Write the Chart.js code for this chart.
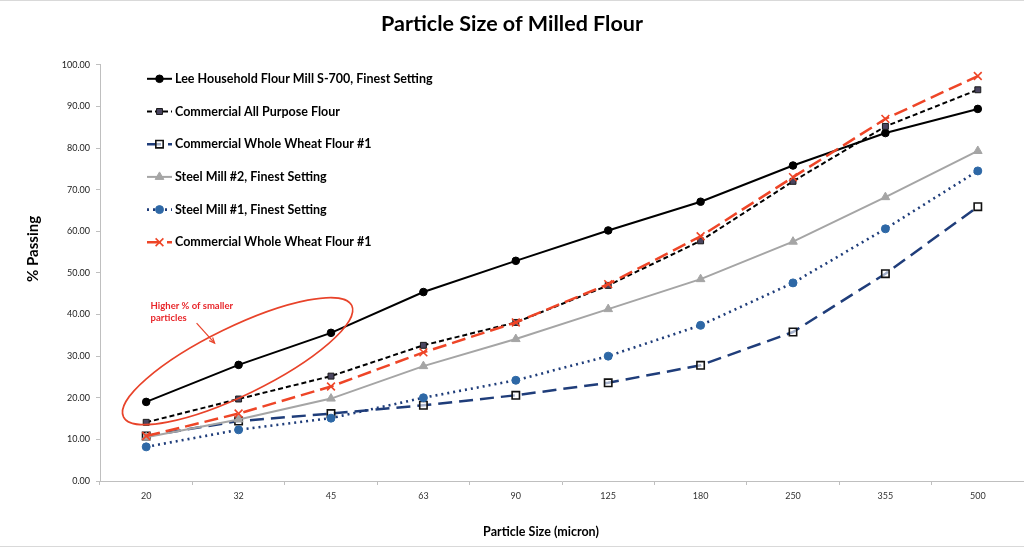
<!DOCTYPE html>
<html>
<head>
<meta charset="utf-8">
<script src="https://cdn.jsdelivr.net/npm/chart.js@4"></script>
<style>
html,body{margin:0;padding:0;background:#fff;}
#wrap{width:1024px;height:548px;position:relative;}
</style>
</head>
<body>
<div id="wrap"><canvas id="c" width="1024" height="548"></canvas></div>
<script>
const categories = ["20","32","45","63","90","125","180","250","355","500"];
const leeHousehold   = [19.0, 27.9, 35.6, 45.4, 52.9, 60.2, 67.1, 75.8, 83.6, 89.4];
const allPurpose     = [14.1, 19.7, 25.2, 32.6, 38.1, 47.0, 57.7, 72.0, 85.2, 94.0];
const wholeWheat1    = [10.8, 14.4, 16.2, 18.2, 20.6, 23.6, 27.8, 35.8, 49.8, 65.9];
const steelMill2     = [10.5, 14.8, 19.8, 27.6, 34.1, 41.3, 48.5, 57.5, 68.2, 79.3];
const steelMill1     = [8.2, 12.3, 15.1, 20.0, 24.2, 30.0, 37.4, 47.6, 60.6, 74.5];
const wholeWheatRed  = [10.8, 16.2, 22.7, 30.9, 38.1, 47.3, 58.8, 73.0, 87.0, 97.3];
const seriesLabels = [
  "Lee Household Flour Mill S-700, Finest Setting",
  "Commercial All Purpose Flour",
  "Commercial Whole Wheat Flour #1",
  "Steel Mill #2, Finest Setting",
  "Steel Mill #1, Finest Setting",
  "Commercial Whole Wheat Flour #1"
];
const yTicks = [0,10,20,30,40,50,60,70,80,90,100];
const xTitle = 'Particle Size (micron)';
const yTitle = '% Passing';

const NAVY = '#1f3d7a';
const RED = '#ee4527';
const GRAY = '#a5a5a5';
const DOTBLUE = '#2e68a6';

const datasets = [
  {label: seriesLabels[2], data: wholeWheat1, borderColor: NAVY, borderWidth: 2.5, borderDash: [14,7],
   pointStyle: 'rect', pointRadius: 5.2, pointBackgroundColor: 'rgba(255,255,255,0.6)', pointBorderColor: '#111', pointBorderWidth: 1.6, order: 6},
  {label: seriesLabels[4], data: steelMill1, borderColor: NAVY, borderWidth: 2.6, borderDash: [2,4],
   pointStyle: 'circle', pointRadius: 4, pointBackgroundColor: DOTBLUE, pointBorderColor: DOTBLUE, pointBorderWidth: 1, order: 5},
  {label: seriesLabels[3], data: steelMill2, borderColor: GRAY, borderWidth: 2,
   pointStyle: 'triangle', pointRadius: 5, pointBackgroundColor: GRAY, pointBorderColor: GRAY, pointBorderWidth: 1, order: 4},
  {label: seriesLabels[0], data: leeHousehold, borderColor: '#000', borderWidth: 2,
   pointStyle: 'circle', pointRadius: 3.8, pointBackgroundColor: '#000', pointBorderColor: '#000', pointBorderWidth: 1, order: 3},
  {label: seriesLabels[1], data: allPurpose, borderColor: '#000', borderWidth: 2, borderDash: [5,3],
   pointStyle: 'rect', pointRadius: 4.2, pointBackgroundColor: '#4a4560', pointBorderColor: '#1a1a1a', pointBorderWidth: 1, order: 2},
  {label: seriesLabels[5], data: wholeWheatRed, borderColor: RED, borderWidth: 2.5, borderDash: [14,6],
   pointStyle: 'crossRot', pointRadius: 5.5, pointBackgroundColor: RED, pointBorderColor: RED, pointBorderWidth: 1.6, order: 1}
];
datasets.forEach(d => { d.fill = false; d.tension = 0; d.backgroundColor = d.borderColor; d.clip = false; });

// legend order as in the reference (indices into datasets)
const legendIdx = [3, 4, 0, 2, 1, 5];

const customLegend = {
  id: 'customLegend',
  afterDraw(chart) {
    const ctx = chart.ctx;
    const ca = chart.chartArea;
    const x0 = ca.left + 47, x1 = ca.left + 72, tx = ca.left + 75;
    const y = ca.top + 14;
    ctx.save();
    legendIdx.forEach((di, i) => {
      const ds = chart.data.datasets[di];
      const yy = y + i * 32.7;
      ctx.beginPath();
      ctx.setLineDash(ds.borderDash ? ds.borderDash.slice() : []);
      ctx.strokeStyle = ds.borderColor;
      ctx.lineWidth = ds.borderWidth;
      ctx.moveTo(x0, yy); ctx.lineTo(x1, yy); ctx.stroke();
      ctx.setLineDash([]);
      ctx.fillStyle = ds.pointBackgroundColor; ctx.strokeStyle = ds.pointBorderColor; ctx.lineWidth = ds.pointBorderWidth;
      ctx.beginPath();
      Chart.helpers.drawPoint(ctx, {pointStyle: ds.pointStyle, radius: ds.pointRadius, borderWidth: ds.pointBorderWidth, rotation: 0}, (x0 + x1) / 2, yy);
      ctx.fillStyle = '#000';
      ctx.font = 'bold 12.5px Lato';
      ctx.textBaseline = 'middle';
      ctx.textAlign = 'left';
      ctx.fillText(ds.label, tx, yy);
    });
    ctx.restore();
  }
};

const annotation = {
  id: 'annotation',
  afterDatasetsDraw(chart) {
    const ctx = chart.ctx;
    const xs = chart.scales.x, ys = chart.scales.y;
    const cx = xs.getPixelForValue(1) - 1;
    const cy = ys.getPixelForValue(28.8);
    ctx.save();
    ctx.strokeStyle = '#e8432a';
    ctx.lineWidth = 1.6;
    ctx.beginPath();
    ctx.ellipse(cx, cy, 127, 34, -26 * Math.PI / 180, 0, Math.PI * 2);
    ctx.stroke();
    ctx.fillStyle = '#e8262a';
    ctx.font = 'bold 9.5px Lato';
    ctx.textAlign = 'left';
    ctx.textBaseline = 'middle';
    ctx.fillText('Higher % of smaller', cx - 87, cy - 55);
    ctx.fillText('particles', cx - 87, cy - 43);
    const ax0 = cx - 41, ay0 = cy - 38, ax1 = cx - 23, ay1 = cy - 18;
    ctx.beginPath(); ctx.moveTo(ax0, ay0); ctx.lineTo(ax1, ay1); ctx.lineWidth = 1.2; ctx.stroke();
    const ang = Math.atan2(ay1 - ay0, ax1 - ax0);
    ctx.beginPath();
    ctx.moveTo(ax1 - 6 * Math.cos(ang - 0.4), ay1 - 6 * Math.sin(ang - 0.4));
    ctx.lineTo(ax1, ay1);
    ctx.lineTo(ax1 - 6 * Math.cos(ang + 0.4), ay1 - 6 * Math.sin(ang + 0.4));
    ctx.stroke();
    ctx.restore();
  },
  afterDraw(chart) {
    const ctx = chart.ctx;
    const ca = chart.chartArea;
    ctx.save();
    ctx.fillStyle = '#000';
    ctx.textAlign = 'center';
    ctx.textBaseline = 'middle';
    ctx.font = 'bold 12.5px Lato';
    ctx.fillText(xTitle, 541, 532);
    ctx.translate(33, (ca.top + ca.bottom) / 2 - 24);
    ctx.rotate(-Math.PI / 2);
    ctx.font = 'bold 15px Lato';
    ctx.fillText(yTitle, 0, 0);
    ctx.restore();
    ctx.save();
    ctx.strokeStyle = '#d9d9d9';
    ctx.lineWidth = 1;
    ctx.beginPath();
    ctx.moveTo(0, 0.5); ctx.lineTo(chart.width, 0.5);
    ctx.moveTo(0, 546.5); ctx.lineTo(chart.width, 546.5);
    ctx.stroke();
    ctx.restore();
  }
};

new Chart(document.getElementById('c'), {
  type: 'line',
  data: {labels: categories, datasets: datasets},
  options: {
    responsive: false,
    devicePixelRatio: 1,
    animation: false,
    layout: {autoPadding: false, padding: {left: 0, right: 0, top: 0, bottom: 0}},
    plugins: {
      legend: {display: false},
      tooltip: {enabled: false},
      title: {
        display: true,
        text: 'Particle Size of Milled Flour',
        color: '#000',
        font: {family: 'Lato', size: 21.5, weight: 'bold', lineHeight: 1.2},
        padding: {top: 11, bottom: 28}
      }
    },
    scales: {
      x: {
        type: 'category',
        offset: true,
        grid: {display: true, drawOnChartArea: false, drawTicks: true, tickLength: 4, color: '#bfbfbf', offset: true},
        border: {display: true, color: '#bfbfbf', width: 1},
        ticks: {color: '#333', font: {family: 'Lato', size: 9}, padding: 6, maxRotation: 0, autoSkip: false},
        title: {display: false},
        afterFit(scale) { scale.height = 67; scale.paddingLeft = 0; scale.paddingRight = 0; }
      },
      y: {
        min: 0, max: 100,
        grid: {display: true, drawOnChartArea: false, drawTicks: true, tickLength: 4, color: '#bfbfbf'},
        border: {display: true, color: '#bfbfbf', width: 1},
        afterBuildTicks(scale) { scale.ticks = yTicks.map(v => ({value: v})); },
        ticks: {color: '#222', font: {family: 'Lato', size: 9}, padding: 6,
                callback: v => Number(v).toFixed(2)},
        title: {display: false},
        afterFit(scale) { scale.width = 100; scale.paddingTop = 0; scale.paddingBottom = 0; }
      }
    }
  },
  plugins: [customLegend, annotation]
});
</script>
</body>
</html>
